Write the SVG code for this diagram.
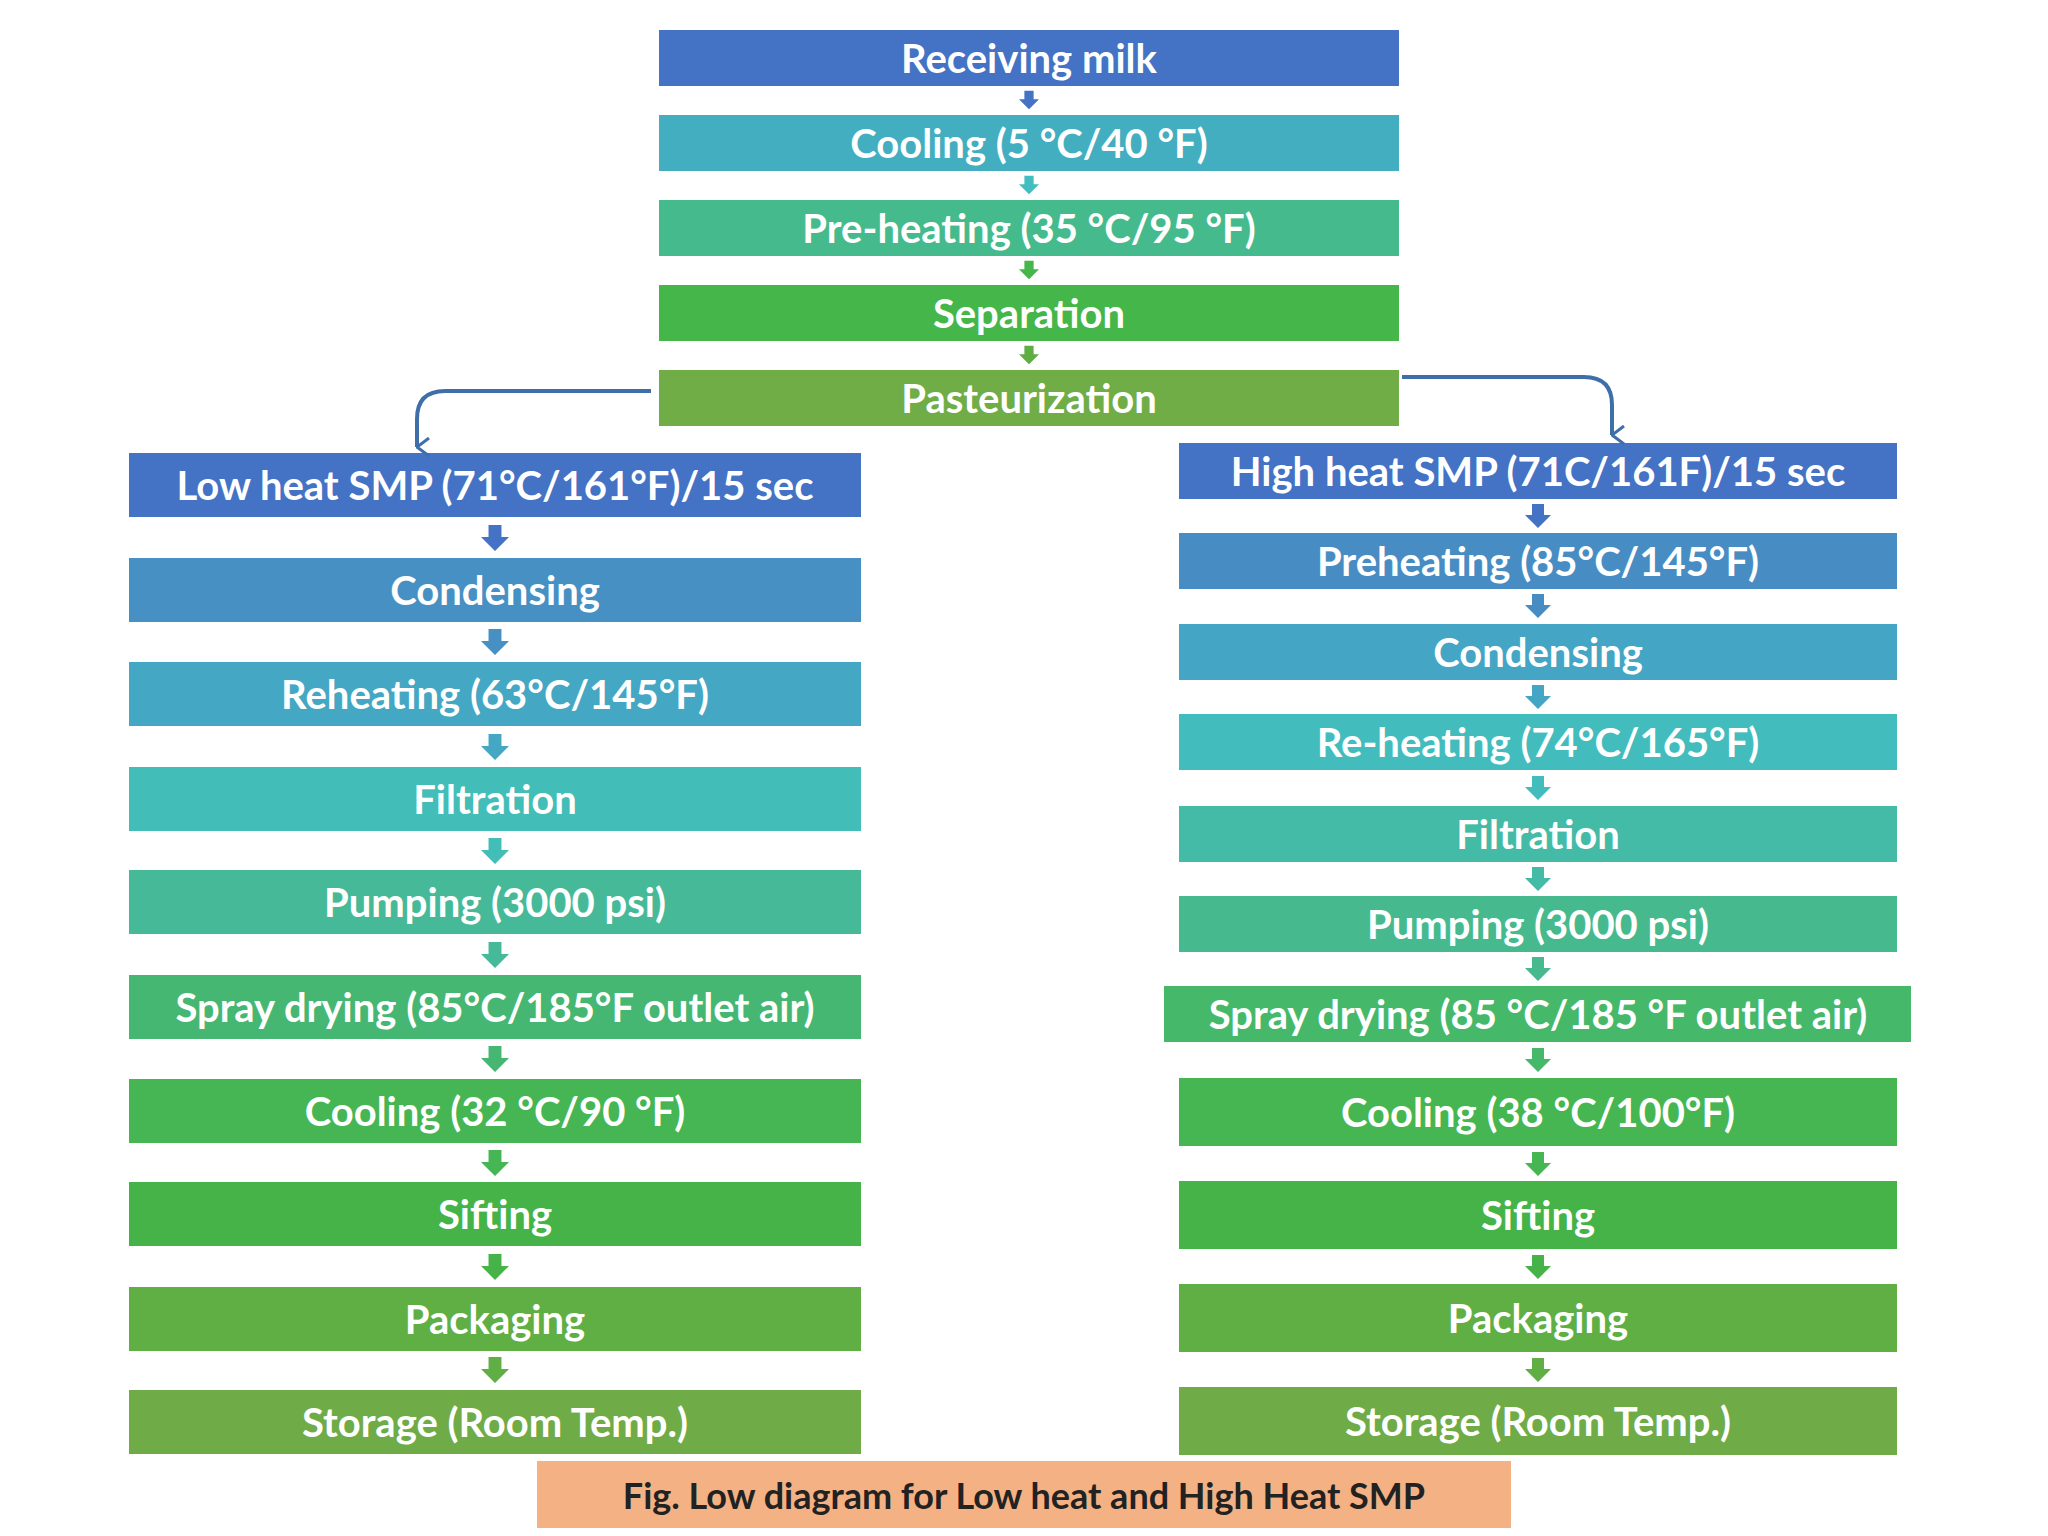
<svg xmlns="http://www.w3.org/2000/svg" xmlns:xlink="http://www.w3.org/1999/xlink" width="2048" height="1536" viewBox="0 0 2048 1536">
<style>
text{font-family:Lato,"Liberation Sans",sans-serif;font-weight:bold;fill:#fff;text-anchor:middle;dominant-baseline:central;font-size:40px}
.cap{fill:#222;font-size:36px}
.c{fill:none;stroke:#3f6fa8;stroke-width:4}
</style>
<defs>
<symbol id="ba" viewBox="0 0 26 24"><polygon points="7,0 19,0 19,11 26,11 13,24 0,11 7,11" fill="currentColor"/></symbol>
<marker id="ah" viewBox="0 0 20 14" refX="10" refY="13" markerWidth="20" markerHeight="14" markerUnits="userSpaceOnUse" orient="auto-start-reverse"><path d="M1,1 L10,13 L19,1" fill="none" stroke="#3f6fa8" stroke-width="3"/></marker>
</defs>
<rect width="2048" height="1536" fill="#fff"/>
<g id="top">
<g id="n1"><rect x="659" y="30" width="740" height="56" fill="#4472c4"/><text x="1029" y="58">Receiving milk</text></g>
<g id="n2"><rect x="659" y="115" width="740" height="56" fill="#42aebf"/><text x="1029" y="143">Cooling (5 °C/40 °F)</text></g>
<g id="n3"><rect x="659" y="200" width="740" height="56" fill="#45bb8d"/><text x="1029" y="228">Pre-heating (35 °C/95 °F)</text></g>
<g id="n4"><rect x="659" y="285" width="740" height="56" fill="#45b649"/><text x="1029" y="313">Separation</text></g>
<g id="n5"><rect x="659" y="370" width="740" height="56" fill="#70ad47"/><text x="1029" y="398">Pasteurization</text></g>
</g>
<g id="left">
<g id="l1"><rect x="129" y="453" width="732" height="64" fill="#4472c4"/><text x="495" y="485">Low heat SMP (71°C/161°F)/15 sec</text></g>
<g id="l2"><rect x="129" y="558" width="732" height="64" fill="#4790c3"/><text x="495" y="590">Condensing</text></g>
<g id="l3"><rect x="129" y="662" width="732" height="64" fill="#44a7c3"/><text x="495" y="694">Reheating (63°C/145°F)</text></g>
<g id="l4"><rect x="129" y="767" width="732" height="64" fill="#42bdb7"/><text x="495" y="799">Filtration</text></g>
<g id="l5"><rect x="129" y="870" width="732" height="64" fill="#46ba98"/><text x="495" y="902">Pumping (3000 psi)</text></g>
<g id="l6"><rect x="129" y="975" width="732" height="64" fill="#45b772"/><text x="495" y="1007">Spray drying (85°C/185°F outlet air)</text></g>
<g id="l7"><rect x="129" y="1079" width="732" height="64" fill="#45b653"/><text x="495" y="1111">Cooling (32 °C/90 °F)</text></g>
<g id="l8"><rect x="129" y="1182" width="732" height="64" fill="#45b347"/><text x="495" y="1214">Sifting</text></g>
<g id="l9"><rect x="129" y="1287" width="732" height="64" fill="#5faf45"/><text x="495" y="1319">Packaging</text></g>
<g id="l10"><rect x="129" y="1390" width="732" height="64" fill="#6fab47"/><text x="495" y="1422">Storage (Room Temp.)</text></g>
</g>
<g id="right">
<g id="r1"><rect x="1179" y="443" width="718" height="56" fill="#4472c4"/><text x="1538" y="471">High heat SMP (71C/161F)/15 sec</text></g>
<g id="r2"><rect x="1179" y="533" width="718" height="56" fill="#478dc3"/><text x="1538" y="561">Preheating (85°C/145°F)</text></g>
<g id="r3"><rect x="1179" y="624" width="718" height="56" fill="#44a5c4"/><text x="1538" y="652">Condensing</text></g>
<g id="r4"><rect x="1179" y="714" width="718" height="56" fill="#42bcbd"/><text x="1538" y="742">Re-heating (74°C/165°F)</text></g>
<g id="r5"><rect x="1179" y="806" width="718" height="56" fill="#44bba6"/><text x="1538" y="834">Filtration</text></g>
<g id="r6"><rect x="1179" y="896" width="718" height="56" fill="#46ba8e"/><text x="1538" y="924">Pumping (3000 psi)</text></g>
<g id="r7"><rect x="1164" y="986" width="747" height="56" fill="#45b86a"/><text x="1538" y="1014">Spray drying (85 °C/185 °F outlet air)</text></g>
<g id="r8"><rect x="1179" y="1078" width="718" height="68" fill="#45b651"/><text x="1538" y="1112">Cooling (38 °C/100°F)</text></g>
<g id="r9"><rect x="1179" y="1181" width="718" height="68" fill="#45b347"/><text x="1538" y="1215">Sifting</text></g>
<g id="r10"><rect x="1179" y="1284" width="718" height="68" fill="#5faf45"/><text x="1538" y="1318">Packaging</text></g>
<g id="r11"><rect x="1179" y="1387" width="718" height="68" fill="#6fab47"/><text x="1538" y="1421">Storage (Room Temp.)</text></g>
</g>
<g id="caption"><rect x="537" y="1461" width="974" height="67" fill="#f4b183"/><text class="cap" x="1024" y="1495">Fig. Low diagram for Low heat and High Heat SMP</text></g>
<g id="connectors">
<path class="c" d="M651,391 H445 Q417,391 417,419 V447" marker-end="url(#ah)"/>
<path class="c" d="M1402,377 H1584 Q1612,377 1612,405 V435" marker-end="url(#ah)"/>
<use href="#ba" x="1019" y="89" width="20" height="22" style="color:#4472c4"/>
<use href="#ba" x="1019" y="174" width="20" height="22" style="color:#42bec0"/>
<use href="#ba" x="1019" y="259" width="20" height="22" style="color:#45b649"/>
<use href="#ba" x="1019" y="344" width="20" height="22" style="color:#5fae44"/>
<use href="#ba" x="481" y="524" width="28" height="28" style="color:#4472c4"/>
<use href="#ba" x="481" y="628" width="28" height="28" style="color:#4790c3"/>
<use href="#ba" x="481" y="733" width="28" height="28" style="color:#44a7c3"/>
<use href="#ba" x="481" y="837" width="28" height="28" style="color:#42bdb7"/>
<use href="#ba" x="481" y="941" width="28" height="28" style="color:#46ba98"/>
<use href="#ba" x="481" y="1045" width="28" height="28" style="color:#45b772"/>
<use href="#ba" x="481" y="1149" width="28" height="28" style="color:#45b653"/>
<use href="#ba" x="481" y="1253" width="28" height="28" style="color:#45b347"/>
<use href="#ba" x="481" y="1356" width="28" height="28" style="color:#5faf45"/>
<use href="#ba" x="1525" y="504" width="26" height="24" style="color:#4472c4"/>
<use href="#ba" x="1525" y="594" width="26" height="24" style="color:#478dc3"/>
<use href="#ba" x="1525" y="685" width="26" height="24" style="color:#44a5c4"/>
<use href="#ba" x="1525" y="776" width="26" height="24" style="color:#42bcbd"/>
<use href="#ba" x="1525" y="867" width="26" height="24" style="color:#44bba6"/>
<use href="#ba" x="1525" y="957" width="26" height="24" style="color:#46ba8e"/>
<use href="#ba" x="1525" y="1048" width="26" height="24" style="color:#45b86a"/>
<use href="#ba" x="1525" y="1152" width="26" height="24" style="color:#45b651"/>
<use href="#ba" x="1525" y="1255" width="26" height="24" style="color:#45b347"/>
<use href="#ba" x="1525" y="1358" width="26" height="24" style="color:#5faf45"/>
</g>
</svg>
